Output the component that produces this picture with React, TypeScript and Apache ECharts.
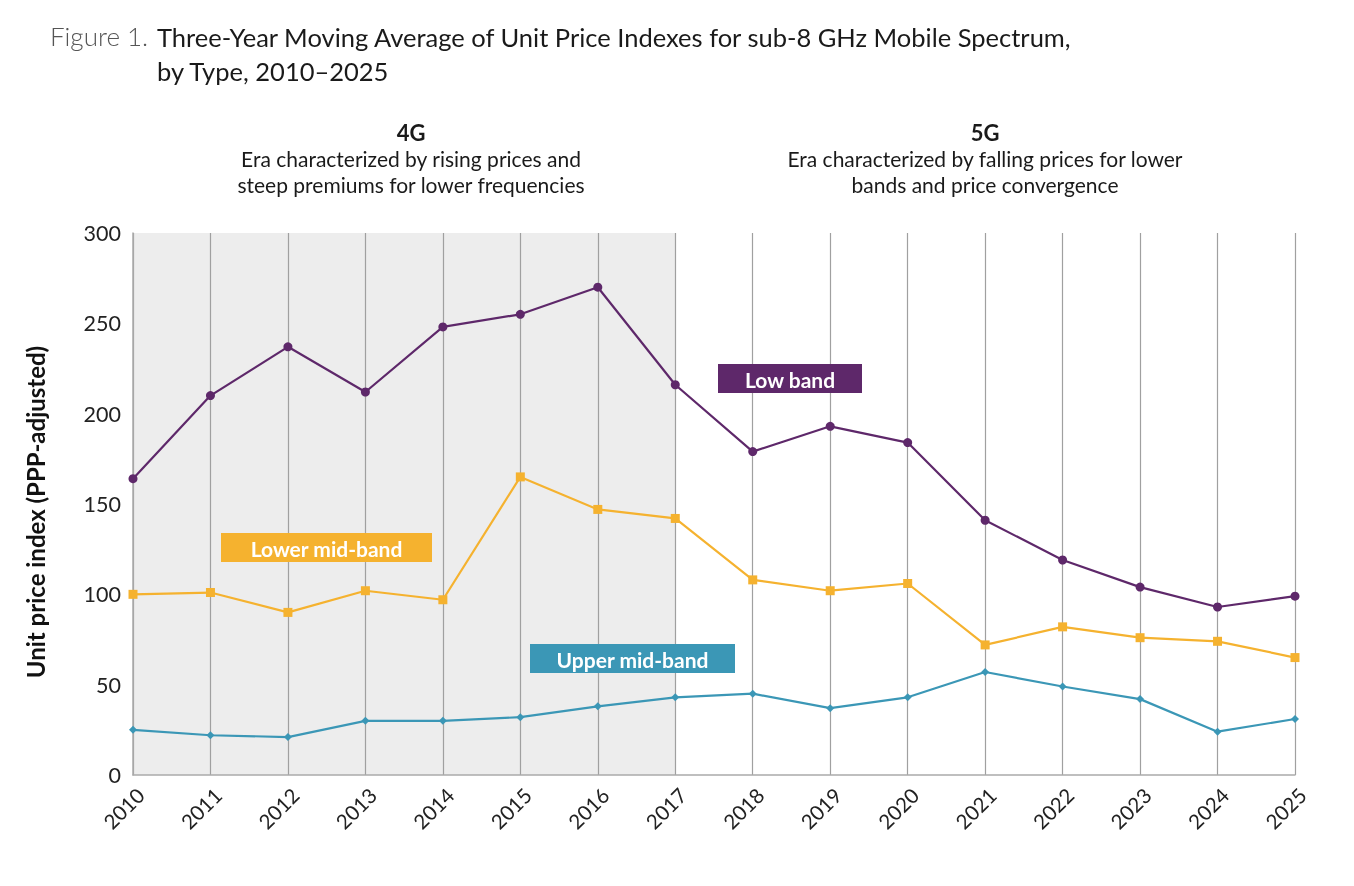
import React, { useEffect, useRef } from "react";
import * as echarts from "echarts";

const years = ["2010","2011","2012","2013","2014","2015","2016","2017","2018","2019","2020","2021","2022","2023","2024","2025"];
const lowBand = [164, 210, 237, 212, 248, 255, 270, 216, 179, 193, 184, 141, 119, 104, 93, 99];
const lowerMid = [100, 101, 90, 102, 97, 165, 147, 142, 108, 102, 106, 72, 82, 76, 74, 65];
const upperMid = [25, 22, 21, 30, 30, 32, 38, 43, 45, 37, 43, 57, 49, 42, 24, 31];
const yTicks = [0, 50, 100, 150, 200, 250, 300];

const PURPLE = "#5e286a";
const ORANGE = "#f5b22f";
const TEAL = "#3b97b6";
const FONT = "Lato, 'Open Sans', sans-serif";

export default function App() {
  const ref = useRef<HTMLDivElement>(null);
  useEffect(() => {
    if (!ref.current) return;
    const chart = echarts.init(ref.current, null, { renderer: "svg" });
    const label = (x: number, y: number, w: number, h: number, txt: string, color: string) => ({
      type: "group",
      left: x,
      top: y,
      z: 100,
      children: [
        { type: "rect", z: 100, shape: { x: 0, y: 0, width: w, height: h }, style: { fill: color } },
        {
          type: "text",
          z: 101,
          x: w / 2,
          y: h / 2 + 1,
          style: { text: txt, fill: "#fff", font: `bold 21px ${FONT}`, align: "center", verticalAlign: "middle" },
        },
      ],
    });
    const center = (x: number, y: number, txt: string, bold: boolean) => ({
      type: "text",
      x,
      y,
      z: 100,
      style: {
        text: txt,
        fill: "#1a1a1a",
        font: `${bold ? "bold 22px" : "21px"} ${FONT}`,
        align: "center",
        verticalAlign: "middle",
      },
    });
    chart.setOption({
      animation: false,
      textStyle: { fontFamily: FONT },
      grid: { left: 133, right: 59, top: 233, bottom: 111, containLabel: false },
      xAxis: {
        type: "category",
        data: years,
        boundaryGap: false,
        z: 2,
        axisLine: { show: true, lineStyle: { color: "#aaaaaa", width: 1.5 } },
        axisTick: { show: false },
        splitLine: { show: true, lineStyle: { color: "#a0a0a0", width: 1.2 } },
        axisLabel: {
          rotate: 45,
          fontSize: 20.5,
          color: "#222",
          margin: 9,
          interval: 0,
          fontFamily: FONT,
          verticalAlign: "top",
        },
      },
      yAxis: {
        type: "value",
        min: 0,
        max: 300,
        interval: 50,
        z: 2,
        axisLine: { show: true, lineStyle: { color: "#aaaaaa", width: 1.5 } },
        axisTick: { show: false },
        splitLine: { show: false },
        axisLabel: {
          fontSize: 21.5,
          color: "#222",
          margin: 12,
          fontFamily: FONT,
          formatter: (v: number) => (yTicks.includes(v) ? String(v) : ""),
        },
      },
      series: [
        {
          name: "era",
          type: "line",
          data: [],
          z: 1,
          silent: true,
          markArea: {
            silent: true,
            itemStyle: { color: "#ededed" },
            data: [[{ xAxis: "2010" }, { xAxis: "2017" }]],
          },
        },
        {
          name: "Low band",
          type: "line",
          data: lowBand,
          symbol: "circle",
          symbolSize: 9,
          lineStyle: { color: PURPLE, width: 2.2 },
          itemStyle: { color: PURPLE },
          z: 5,
        },
        {
          name: "Lower mid-band",
          type: "line",
          data: lowerMid,
          symbol: "rect",
          symbolSize: 9,
          lineStyle: { color: ORANGE, width: 2.2 },
          itemStyle: { color: ORANGE },
          z: 4,
        },
        {
          name: "Upper mid-band",
          type: "line",
          data: upperMid,
          symbol: "diamond",
          symbolSize: 8,
          lineStyle: { color: TEAL, width: 2.2 },
          itemStyle: { color: TEAL },
          z: 4,
        },
      ],
      graphic: [
        {
          type: "text",
          left: 50,
          top: 23,
          z: 100,
          style: { text: "Figure 1.", fill: "#555", font: `300 26px ${FONT}` },
        },
        {
          type: "text",
          left: 157,
          top: 20,
          z: 100,
          style: {
            text: "Three-Year Moving Average of Unit Price Indexes for sub-8 GHz Mobile Spectrum,\nby Type, 2010\u20132025",
            fill: "#1a1a1a",
            font: `25.5px ${FONT}`,
            lineHeight: 34,
          },
        },
        {
          type: "text",
          x: 35,
          y: 512,
          rotation: Math.PI / 2,
          z: 100,
          style: {
            text: "Unit price index (PPP-adjusted)",
            fill: "#111",
            font: `bold 24px ${FONT}`,
            align: "center",
            verticalAlign: "middle",
          },
        },
        center(411, 132, "4G", true),
        center(411, 158, "Era characterized by rising prices and", false),
        center(411, 184, "steep premiums for lower frequencies", false),
        center(985, 132, "5G", true),
        center(985, 158, "Era characterized by falling prices for lower", false),
        center(985, 184, "bands and price convergence", false),
        label(718, 364, 144, 29, "Low band", PURPLE),
        label(221, 533, 211, 29, "Lower mid-band", ORANGE),
        label(530, 644, 205, 29, "Upper mid-band", TEAL),
      ],
    });
    return () => chart.dispose();
  }, []);
  return <div ref={ref} style={{ position: "fixed", left: 0, top: 0, width: 1354, height: 886 }} />;
}
